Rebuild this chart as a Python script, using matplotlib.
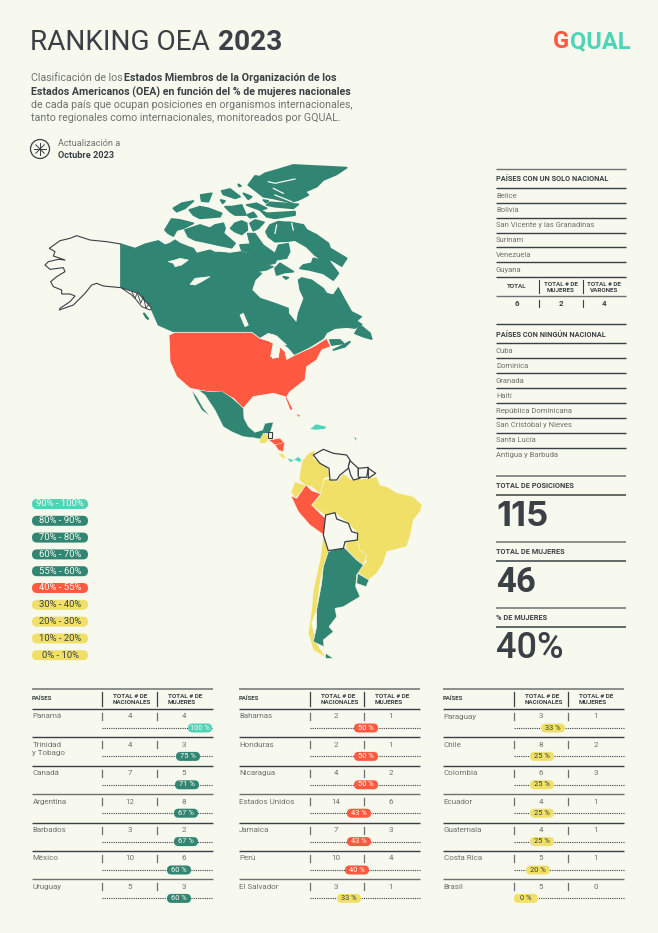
import numpy as np
import matplotlib
matplotlib.use("Agg")
import matplotlib.pyplot as plt
from matplotlib.patches import FancyBboxPatch, Polygon, Circle

# ---- data ----
paises_1 = ["Panamá", "Trinidad\ny Tobago", "Canadá", "Argentina", "Barbados", "México", "Uruguay"]
nacionales_1 = [4, 4, 7, 12, 3, 10, 5]
mujeres_1 = [4, 3, 5, 8, 2, 6, 3]
pct_1 = [100, 75, 71, 67, 67, 60, 60]

paises_2 = ["Bahamas", "Honduras", "Nicaragua", "Estados Unidos", "Jamaica", "Perú", "El Salvador"]
nacionales_2 = [2, 2, 4, 14, 7, 10, 3]
mujeres_2 = [1, 1, 2, 6, 3, 4, 1]
pct_2 = [50, 50, 50, 43, 43, 40, 33]

paises_3 = ["Paraguay", "Chile", "Colombia", "Ecuador", "Guatemala", "Costa Rica", "Brasil"]
nacionales_3 = [3, 8, 6, 4, 4, 5, 5]
mujeres_3 = [1, 2, 3, 1, 1, 1, 0]
pct_3 = [33, 25, 25, 25, 25, 20, 0]

solo_nacional = ["Belice", "Bolivia", "San Vicente y las Granadinas", "Surinam", "Venezuela", "Guyana"]
ningun_nacional = ["Cuba", "Dominica", "Granada", "Haití", "República Dominicana",
                   "San Cristóbal y Nieves", "Santa Lucía", "Antigua y Barbuda"]
leyenda = ["90% - 100%", "80% - 90%", "70% - 80%", "60% - 70%", "55% - 60%",
           "40% - 55%", "30% - 40%", "20% - 30%", "10% - 20%", "0% - 10%"]

# ---- colours ----
BG = "#F7F9EE"
GREEN = "#318573"
RED = "#FF5A41"
YELLOW = "#F0E068"
TEAL = "#4FD4B8"
DARK = "#3A4045"
GREY = "#6E716F"
FONT = "Roboto"

leyenda_col = [TEAL, GREEN, GREEN, GREEN, GREEN, RED, YELLOW, YELLOW, YELLOW, YELLOW]


def pct_color(p):
    if p >= 90:
        return TEAL
    if p >= 55:
        return GREEN
    if p >= 40:
        return RED
    return YELLOW


# outlines
# canada block
canada = [(-117,237),(-75,250),(-45,237),(-5,227),(15,240),(30,235),(45,225),(60,235),(85,245),(100,250),(110,265),
          (150,255),(165,262),(180,262),(210,265),(245,260),(270,268),(275,255),(262,205),(285,205),(310,240),
          (345,265),(355,240),(385,235),(390,260),(380,280),(350,285),(345,295),(320,300),(340,305),(320,315),
          (290,320),(305,325),(285,345),(275,375),(300,400),(345,415),(385,430),(385,445),(410,475),(415,445),
          (432,400),(420,375),(415,345),(425,338),(455,345),(490,370),(500,385),(520,390),(535,368),(555,405),
          (575,440),(605,455),(590,468),(606,478),(585,490),(560,487),(525,490),(500,503),(490,520),(450,545),
          (405,570),(388,550),(370,535),(340,505),(300,520),(275,502),(45,502),(-5,480),(-25,435),(-50,405),
          (-75,380),(-117,367)]
arctic = [
    [(315,25),(350,15),(400,0),(560,8),(530,28),(490,45),(470,65),(435,80),(445,90),(415,105),(390,112),(340,100),(310,95),(265,60),(285,33),(300,35)],
    [(320,120),(330,112),(415,118),(400,130),(345,125)],
    [(300,135),(320,145),(405,140),(405,150),(345,160),(320,155)],
    [(260,120),(290,115),(320,130),(300,135)],
    [(262,150),(280,142),(290,155),(270,158)],
    [(250,85),(275,95),(265,103)],
    [(185,78),(210,72),(240,95),(225,100),(190,88)],
    [(122,90),(155,85),(145,110),(125,108)],
    [(40,130),(65,115),(100,108),(75,130),(50,140)],
    [(88,135),(120,125),(145,130),(185,145),(180,155),(120,160),(100,150)],
    [(195,125),(215,125),(245,120),(258,150),(225,150),(210,140)],
    [(310,105),(325,108),(318,113)],
    [(235,58),(243,63),(237,64)],
    [(182,105),(195,108),(188,115)],
    [(15,195),(35,162),(60,165),(100,175),(70,190),(50,195),(40,213),(25,205)],
    [(75,195),(120,180),(150,190),(165,180),(190,175),(195,190),(190,205),(225,235),(215,248),(175,240),(130,230),(105,225),(85,215)],
    [(212,190),(225,175),(245,168),(260,175),(262,195),(245,208),(225,200)],
    [(270,175),(285,165),(312,172),(295,190),(280,197)],
    [(240,240),(275,238),(280,270),(265,262),(245,255)],
    [(318,200),(330,180),(355,170),(375,172),(390,172),(430,180),(440,195),(470,210),(505,235),(510,250),(560,280),
     (545,303),(515,285),(505,285),(535,325),(520,345),(490,325),(450,315),(420,310),(430,300),(455,295),(460,280),
     (490,288),(465,270),(440,245),(405,225),(385,228),(345,230),(325,215)],
    [(345,310),(360,295),(400,320),(375,322),(350,330)],
    [(370,335),(385,338),(378,342)],
    [(585,505),(600,480),(630,505),(635,522),(610,515)],
    [(510,525),(540,525),(550,535),(515,540)],
    [(520,555),(570,530),(555,545)],
    [(-48,445),(-35,462),(-42,457)],
]
canada_lakes = [
    [(25,290),(45,285),(60,280),(85,285),(65,300),(45,305),(40,295)],
    [(90,358),(105,340),(150,335),(125,350),(105,360)],
    [(240,450),(250,445),(265,480),(255,485)],
    [(425,262),(440,258),(445,268),(430,273)],
]
canales = [
    [(325,50),(345,55),(405,42)],
    [(340,70),(370,85)],
    [(345,90),(395,110)],
    [(345,205),(350,180)],
    [(395,175),(400,195)],
]
lago_superior = [(720,505),(745,490),(770,498),(800,525),(775,520),(745,512)]
lago_michigan = [(760,520),(775,520),(775,562),(757,565)]

# north block
usa = [(447,495),(465,487),(695,487),(720,505),(745,512),(760,520),(752,560),(775,562),(780,530),(795,545),(800,568),
       (825,555),(880,530),(920,505),(932,530),(905,540),(890,570),(860,590),(855,630),(810,665),(800,680),(820,720),
       (810,720),(795,680),(760,670),(700,680),(670,715),(640,685),(600,665),(560,665),(510,655),(470,620),(450,575)]
alaska = [(303,222),(260,215),(210,210),(170,197),(150,205),(120,212),(88,235),(105,245),(100,258),(135,270),(115,268),
          (85,275),(75,285),(90,298),(130,293),(135,305),(110,320),(92,335),(100,350),(125,360),(125,372),(150,372),
          (165,378),(150,395),(120,415),(118,420),(160,405),(195,370),(215,345),(230,340),(250,348),(303,353)]
panhandle = [(303,353),(330,362),(355,370),(395,415),(390,420),(365,410),(345,385),(335,375)]
panhandle_rayas = [(335,365),(345,385),(352,368),(362,400),(370,380),(378,415),(388,400)]

# central america block
mexico = [(25,15),(60,20),(95,18),(125,38),(150,60),(160,70),(162,100),(175,125),(195,142),(218,135),(225,115),(250,112),
          (243,135),(238,145),(225,145),(215,163),(190,158),(160,155),(125,140),(100,125),(75,75),(45,30)]
baja = [(5,15),(20,35),(40,70),(60,93),(35,75),(15,40)]
guatemala = [(207,168),(220,145),(233,148),(235,165),(225,175),(212,175)]
belice = [(235,140),(245,140),(245,160),(235,160)]
honduras = [(237,165),(270,160),(285,175),(255,180)]
nicaragua = [(255,180),(283,172),(280,200),(265,195)]
costa_rica = [(265,203),(280,207),(290,222),(275,218)]
panama = [(292,218),(310,225),(325,215),(335,225),(328,232),(315,225),(300,232)]
isla_teal = [(360,132),(378,117),(410,125),(405,132),(375,135)]
isla_roja = [(318,86),(332,92),(325,96)]

# south america block
isla_verde = [(520,200),(530,205),(528,212)]
colombia = [(365,275),(385,250),(405,240),(400,265),(440,285),(450,320),(432,325),(430,350),(420,372),(395,350),(375,345),(357,330)]
ecuador = [(345,335),(375,345),(382,350),(360,370),(345,385),(333,365)]
peru = [(333,378),(350,385),(378,345),(395,362),(422,372),(395,405),(420,430),(437,445),(432,495),(390,465),(355,425)]
venezuela = [(400,255),(430,238),(460,250),(500,255),(510,270),(505,295),(480,315),(470,330),(450,330),(447,295),(420,280)]
guyana = [(505,290),(510,272),(535,295),(535,315),(540,325),(520,330),(512,315)]
surinam = [(535,295),(565,292),(560,322),(535,322)]
guayana_fr = [(565,295),(587,310),(565,325)]
brasil = [(432,330),(447,325),(470,335),(490,310),(515,330),(565,325),(590,320),(600,345),(620,350),(650,368),
          (700,380),(727,405),(720,425),(700,450),(690,500),(680,530),(640,540),(620,545),(610,580),(590,610),(565,630),
          (530,605),(560,575),(530,540),(533,490),(505,460),(465,428),(440,440),(395,405),(420,375)]
bolivia = [(437,435),(465,428),(470,447),(505,460),(515,485),(533,490),(532,510),(495,515),(490,535),(445,542),(430,495)]
paraguay = [(495,515),(532,510),(540,540),(560,555),(550,585),(530,570),(500,540)]
chile = [(430,497),(447,545),(430,590),(420,640),(410,720),(395,760),(410,820),(440,865),(400,840),(385,790),(395,720),(400,660),(420,570)]
argentina = [(445,545),(490,530),(530,570),(550,585),(530,615),(527,650),(540,680),(490,710),(465,715),(470,740),
             (447,770),(460,785),(430,810),(432,830),(400,815),(410,770),(410,720),(425,640),(430,590)]
tierra = [(437,850),(460,865),(437,865)]
uruguay = [(533,610),(567,630),(558,650),(530,640)]

# ---- figure: one axes in picture pixels ----
fig = plt.figure(figsize=(6.58, 9.33), dpi=100, facecolor=BG)
ax = fig.add_axes([0, 0, 1, 1])
ax.set_xlim(0, 658)
ax.set_ylim(933, 0)
ax.axis("off")


def arct(pts):
    return [(160 + x / 3, 165 + y / 3) for x, y in pts]


def north(pts):
    return [(20 + x / 3, 170 + y / 3) for x, y in pts]


def mid(pts):
    return [(190 + x / 3, 385 + y / 3) for x, y in pts]


def south(pts):
    return [(180 + x / 3, 370 + y / 3) for x, y in pts]


def shape(pts, color, edge=None, lw=0.5, z=2):
    ax.add_patch(Polygon(pts, closed=True, facecolor=color,
                         edgecolor=edge if edge else color, linewidth=lw, joinstyle="round", zorder=z))


def txt(x, y, s, size=6, color=GREY, weight="normal", ha="left", va="center", family=FONT, **kw):
    return ax.text(x, y, s, fontsize=size, color=color, fontweight=weight, ha=ha, va=va,
                   family=family, **kw)


def rule(x0, x1, y, color=DARK, lw=1.0):
    ax.plot([x0, x1], [y, y], color=color, lw=lw, solid_capstyle="butt", zorder=3)


def mixed(x, y, parts, size):
    # runs of normal and bold text on one line
    r = fig.canvas.get_renderer()
    for s, w in parts:
        t = txt(x, y, s, size=size, color=DARK if w == "bold" else GREY, weight=w)
        x = t.get_window_extent(r).x1 + 1.6
    return x


def pill(xc, y, w, h, color, label, tcolor, size):
    ax.add_patch(FancyBboxPatch((xc - w / 2, y - h / 2), w, h, boxstyle=f"round,pad=0,rounding_size={h / 2}",
                                facecolor=color, edgecolor="none", zorder=5))
    txt(xc, y, label, size=size, color=tcolor, ha="center", zorder=6)


# ---- header ----
r = fig.canvas.get_renderer()
t = txt(30, 42, "RANKING OEA ", size=20.2, color=DARK)
x_end = t.get_window_extent(r).x1
txt(x_end + 1, 42, "2023", size=20.2, color=DARK, weight="bold")
g = txt(553, 42, "G", size=17, color=RED, weight="bold")
txt(g.get_window_extent(r).x1 + 0.5, 42, "QUAL", size=17, color=TEAL, weight="bold")

mixed(31, 78, [("Clasificación de los", "normal"), ("Estados Miembros de la Organización de los", "bold")], 7.65)
mixed(31, 92, [("Estados Americanos (OEA) en función del % de mujeres nacionales", "bold")], 7.65)
mixed(31, 105, [("de cada país que ocupan posiciones en organismos internacionales,", "normal")], 7.65)
mixed(31, 118, [("tanto regionales como internacionales, monitoreados por GQUAL.", "normal")], 7.65)

ax.add_patch(Circle((40, 149), 9.5, facecolor="none", edgecolor=DARK, lw=0.9))
for ang in (0, 45, 90, 135):
    dx, dy = 6 * np.cos(np.radians(ang)), 6 * np.sin(np.radians(ang))
    ax.plot([40 - dx, 40 + dx], [149 - dy, 149 + dy], color=DARK, lw=0.7)
txt(58, 144, "Actualización a", size=6.6)
txt(58, 156, "Octubre 2023", size=6.6, color=DARK, weight="bold")

# ---- map ----
shape(north(alaska), BG, edge=DARK, lw=0.8, z=1)
shape(north(panhandle), BG, edge=DARK, lw=0.7, z=3)
xy = np.array(north(panhandle_rayas))
ax.plot(xy[:, 0], xy[:, 1], color=DARK, lw=0.6, zorder=3)
shape(arct(canada), GREEN, lw=0.8)
for isl in arctic:
    shape(arct(isl), GREEN, lw=1.3)
for lake in canada_lakes:
    shape(arct(lake), BG, z=3)
for line in canales:
    xy = np.array(arct(line))
    ax.plot(xy[:, 0], xy[:, 1], color=BG, lw=0.9, zorder=3)
shape(north(usa), RED, edge=BG, lw=0.6, z=3)
shape(north(lago_superior), BG, z=3)
shape(north(lago_michigan), BG, z=3)

for pts, col in [(mexico, GREEN), (baja, GREEN), (guatemala, YELLOW), (honduras, RED), (nicaragua, RED),
                 (costa_rica, YELLOW), (panama, TEAL), (isla_teal, TEAL), (isla_roja, RED)]:
    shape(mid(pts), col, edge=BG, lw=0.3, z=3)
shape(mid(belice), BG, edge=DARK, lw=0.8, z=4)
for pts, col in [(isla_verde, GREEN), (colombia, YELLOW), (ecuador, YELLOW), (brasil, YELLOW), (paraguay, YELLOW),
                 (chile, YELLOW), (argentina, GREEN), (tierra, GREEN), (uruguay, GREEN)]:
    shape(south(pts), col, edge=BG, lw=0.4, z=3)
shape(south(peru), RED, edge=BG, lw=0.4, z=4)
for pts in (venezuela, guyana, surinam, guayana_fr, bolivia):
    shape(south(pts), BG, edge=DARK, lw=0.9, z=4)

# ---- legend ----
for i, lab in enumerate(leyenda):
    y = 504 + i * 16.8
    c = leyenda_col[i]
    pill(60, y, 56, 10, c, lab, DARK if c == YELLOW else BG, 6.8)

# ---- right panel ----
X0, X1 = 496, 626
rule(X0, X1, 168.7, color=GREY)
txt(X0, 179, "PAÍSES CON UN SOLO NACIONAL", size=5.3, color=DARK, weight="bold")
rule(X0, X1, 188)
for i, name in enumerate(solo_nacional):
    txt(X0, 195.5 + i * 14.9, name, size=5.5)
    rule(X0, X1, 203 + i * 14.8)

for xc, lab in zip([517, 561, 604], ["TOTAL", "TOTAL # DE\nMUJERES", "TOTAL # DE\nVARONES"]):
    txt(xc, 287, lab, size=4.5, color=DARK, weight="bold", ha="center", linespacing=1.25)
rule(X0, X1, 296, color=GREY)
for xc, val in zip([517, 561, 604], [len(solo_nacional), 2, 4]):
    txt(xc, 303.5, str(val), size=5.8, color=DARK, weight="bold", ha="center")
for xs in (539, 583):
    ax.plot([xs, xs], [280, 293], color=DARK, lw=0.8)
    ax.plot([xs, xs], [300, 307], color=DARK, lw=0.8)

rule(X0, X1, 324)
txt(X0, 335, "PAÍSES CON NINGÚN NACIONAL", size=5.3, color=DARK, weight="bold")
rule(X0, X1, 343)
for i, name in enumerate(ningun_nacional):
    txt(X0, 351 + i * 14.9, name, size=5.5)
    if i < 7:
        rule(X0, X1, 358 + i * 15)

stat_labels = ["TOTAL DE POSICIONES", "TOTAL DE MUJERES", "% DE MUJERES"]
stat_values = ["115", "46", "40%"]
for i, (lab, val) in enumerate(zip(stat_labels, stat_values)):
    top = 476 + i * 66
    rule(X0, X1, top, color=GREY, lw=1.1)
    txt(X0, top + 10, lab, size=5.3, color=DARK, weight="bold")
    rule(X0, X1, top + 18.5, lw=1.1)
    if val == "115":
        # Inter has a narrow figure one, closer to the original
        txt(X0, top + 41, val, size=25, color=DARK, weight="bold", family="Inter")
    elif val == "46":
        txt(X0, top + 41, val, size=25, color=DARK, weight="bold")
    else:
        txt(X0, top + 41, val, size=26, color=DARK, weight="medium")

# ---- bottom tables ----
# pill offset from the start of its track
scale_pct = [0, 20, 25, 33, 40, 43, 50, 60, 67, 71, 75, 100]
scale_off = [0, 12, 16, 27, 35, 37, 44, 65, 72, 73, 74, 86]

tables = [
    (32, 102, 157, 130, 184, 213, paises_1, nacionales_1, mujeres_1, pct_1),
    (238.5, 310, 364, 336, 391, 420, paises_2, nacionales_2, mujeres_2, pct_2),
    (443, 514, 568, 541, 596, 624, paises_3, nacionales_3, mujeres_3, pct_3),
]
for x0, s1, s2, c1, c2, x1, names, nac, muj, pcts in tables:
    rule(x0, x1, 689, color=GREY, lw=1.1)
    txt(x0, 699, "PAÍSES", size=4.3, color=DARK, weight="bold")
    txt(s1 + 11, 699, "TOTAL # DE\nNACIONALES", size=4.6, color=DARK, weight="bold", linespacing=1.25)
    txt(s2 + 11, 699, "TOTAL # DE\nMUJERES", size=4.6, color=DARK, weight="bold", linespacing=1.25)
    for xs in (s1, s2):
        ax.plot([xs, xs], [692, 706], color=DARK, lw=0.9)
    rule(x0, x1, 709, lw=1.0)
    for i, name in enumerate(names):
        base = 709 + i * 28.4
        if i < 6:
            rule(x0, x1, base + 28.4, color=DARK if i % 3 != 2 else GREY, lw=1.0)
        txt(x0 + 0.5, base + (11.5 if "\n" in name else 7.5), name, size=5.8, linespacing=1.3)
        txt(c1, base + 7.5, str(nac[i]), size=5.8, ha="center")
        txt(c2, base + 7.5, str(muj[i]), size=5.8, ha="center")
        for xs in (s1, s2):
            ax.plot([xs, xs], [base + 4, base + 11], color=GREY, lw=0.9)
        ypill = base + 19
        ax.plot([s1, x1], [ypill, ypill], color=DARK, lw=0.8, ls=(0, (1, 1)), zorder=4)
        off = np.interp(pcts[i], scale_pct, scale_off)
        col = pct_color(pcts[i])
        pill(s1 + off + 12, ypill, 24, 9, col, f"{pcts[i]} %", DARK if col == YELLOW else BG, 5.4)

fig.savefig("out.png", dpi=100, facecolor=BG)
